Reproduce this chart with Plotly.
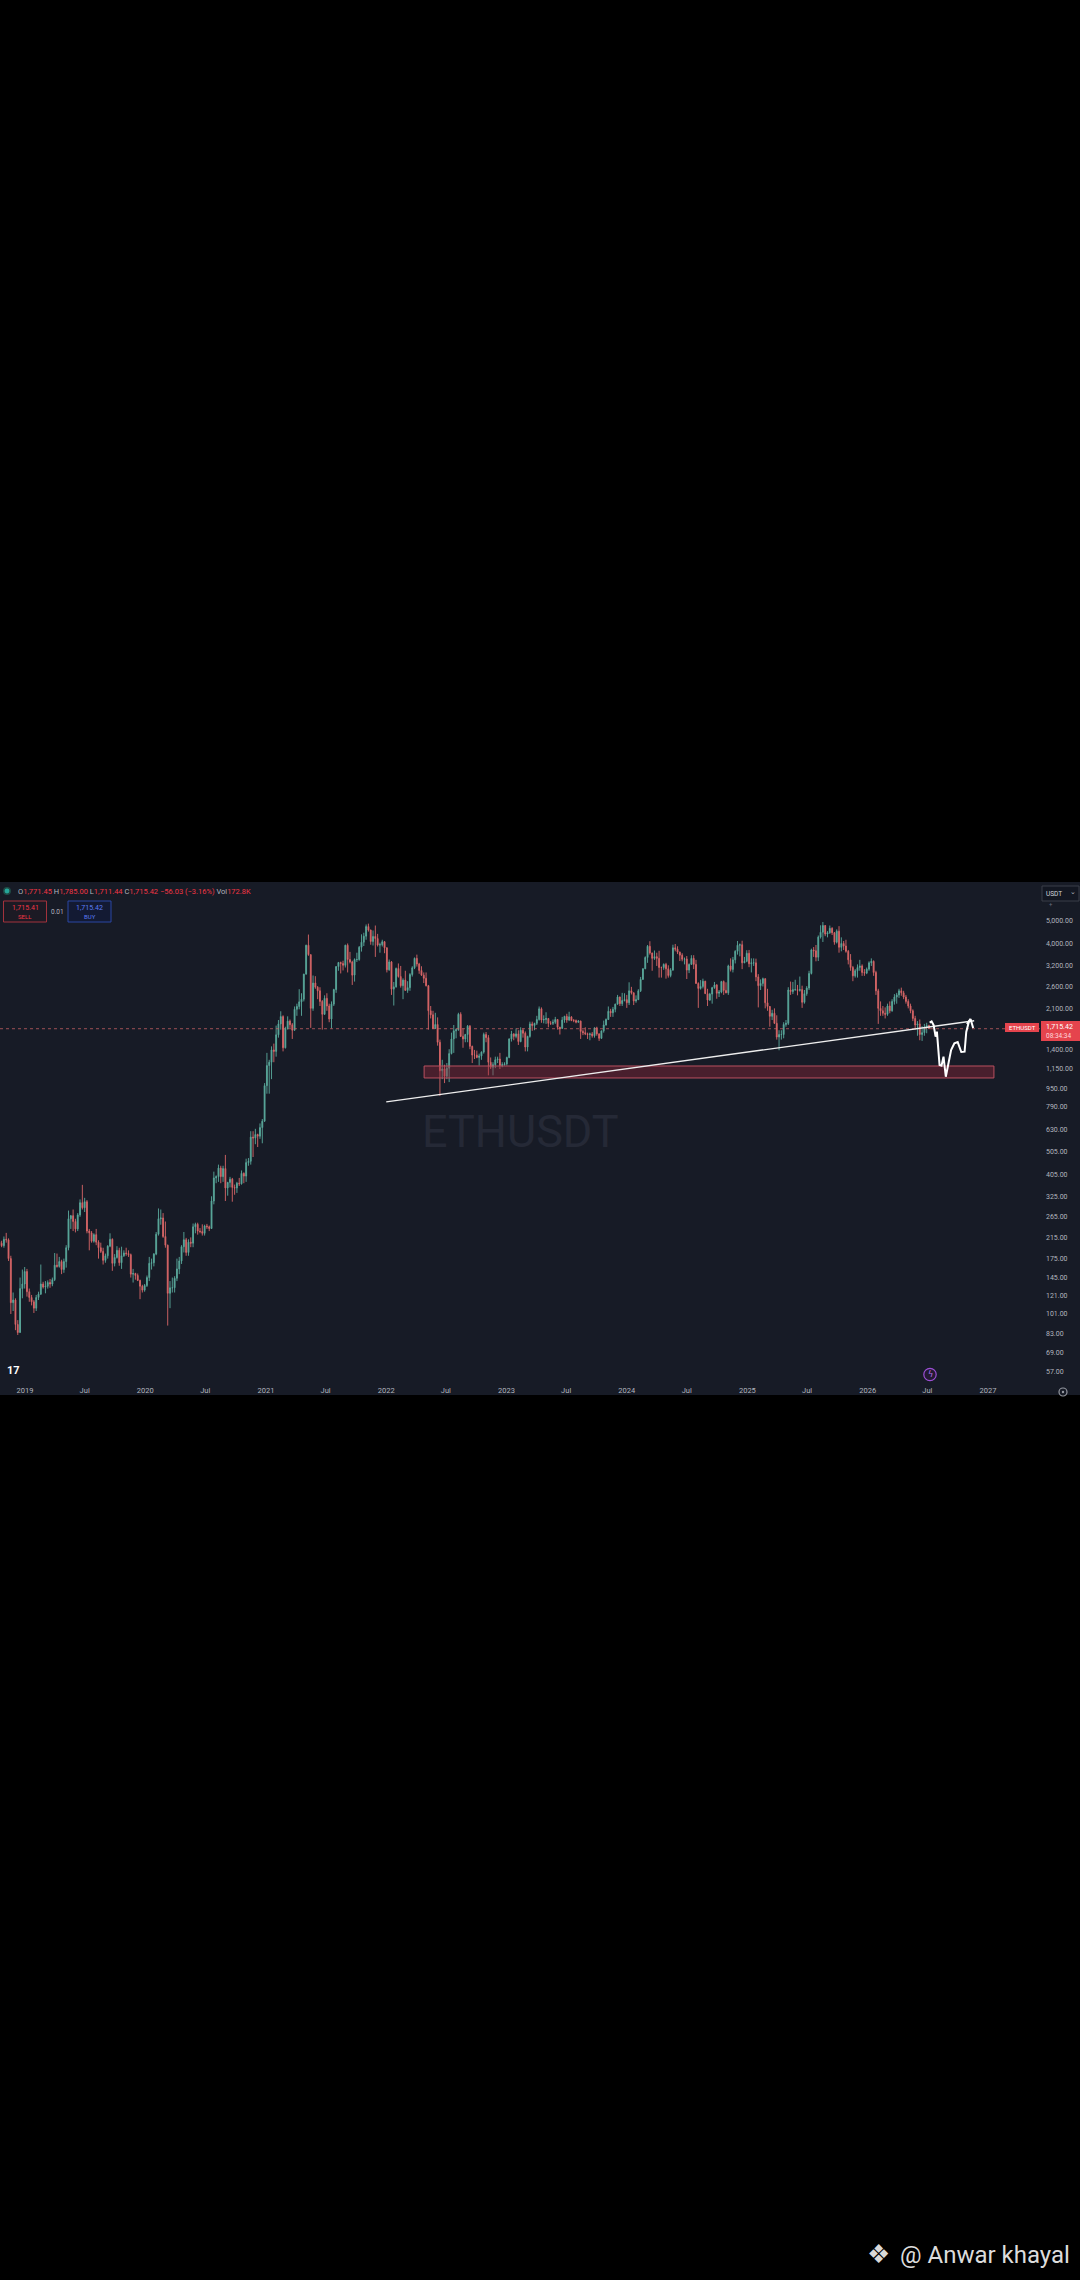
import plotly.graph_objects as go
import pandas as pd

# ---------------- data (weekly candles) ----------------
first_open = 207
c2018 = [204, 199, 212, 211, 175, 113, 116, 91, 84, 130, 136, 154]
h2018 = [230, 209, 218, 226, 214, 180, 125, 118, 95, 145, 157, 161]
l2018 = [195, 196, 195, 205, 171, 101, 104, 86, 82, 84, 118, 130]

c2019 = [126, 119, 114, 107, 119, 123, 136, 132, 133, 138, 136, 142, 164, 162, 170, 157, 170, 195, 260, 268,
         253, 235, 270, 305, 290, 308, 230, 226, 208, 222, 206, 195, 188, 172, 180, 198, 212, 167, 177, 190,
         168, 180, 185, 184, 182, 150, 151, 148, 141, 133, 128, 134]
h2019 = [158, 130, 122, 116, 122, 126, 165, 139, 140, 141, 143, 145, 185, 184, 178, 173, 175, 200, 282, 270,
         285, 260, 275, 315, 364, 320, 313, 235, 230, 225, 235, 210, 205, 195, 184, 200, 225, 214, 183, 198,
         195, 197, 190, 195, 190, 184, 158, 152, 151, 142, 135, 136]
l2019 = [120, 114, 110, 102, 104, 116, 122, 130, 124, 130, 131, 133, 140, 160, 160, 150, 152, 160, 190, 235,
         230, 227, 230, 265, 285, 278, 225, 190, 205, 205, 200, 175, 185, 165, 168, 175, 196, 155, 162, 175,
         163, 158, 178, 180, 178, 145, 138, 142, 140, 117, 125, 126]

c2020 = [145, 167, 168, 183, 223, 260, 262, 218, 200, 124, 131, 131, 144, 158, 171, 197, 211, 186, 206, 204,
         240, 246, 230, 229, 225, 242, 240, 236, 310, 390, 395, 430, 395, 428, 353, 373, 385, 355, 353, 370,
         368, 408, 397, 454, 460, 585, 580, 600, 590, 643, 685, 975]
h2020 = [148, 178, 175, 185, 228, 288, 285, 275, 253, 201, 140, 145, 147, 175, 178, 200, 228, 215, 212, 216,
         248, 250, 250, 237, 246, 245, 247, 243, 325, 415, 400, 445, 440, 440, 490, 375, 394, 390, 365, 375,
         390, 420, 412, 472, 475, 620, 620, 635, 605, 670, 700, 1000]
l2020 = [132, 140, 157, 162, 181, 220, 245, 215, 195, 90, 107, 125, 125, 140, 150, 166, 186, 180, 180, 196,
         196, 225, 222, 225, 220, 220, 235, 230, 235, 300, 370, 375, 370, 375, 310, 327, 355, 308, 330, 336,
         360, 365, 370, 375, 440, 445, 480, 545, 530, 575, 550, 680]

c2021 = [1190, 1230, 1390, 1370, 1615, 1800, 1935, 1420, 1720, 1850, 1785, 1690, 2080, 2140, 2240, 2300, 2950,
         3930, 3580, 2100, 2700, 2590, 2500, 2250, 1980, 2320, 2150, 1890, 2190, 2530, 3180, 3310, 3280, 3220,
         3930, 3410, 3330, 2920, 3410, 3410, 3850, 4050, 4300, 4730, 4570, 4080, 4290, 4200, 3940, 3950, 4070, 3830]
h2021 = [1350, 1260, 1440, 1480, 1770, 1870, 2040, 1960, 1750, 1940, 1880, 1815, 2140, 2200, 2540, 2440, 2960,
         3950, 4370, 3590, 2910, 2890, 2620, 2590, 2280, 2390, 2440, 2200, 2250, 2550, 3190, 3330, 3340, 3370,
         3950, 4000, 3680, 3370, 3450, 3650, 3900, 4380, 4450, 4830, 4870, 4590, 4550, 4780, 4400, 4030, 4150, 4100]
l2021 = [900, 900, 1040, 1230, 1300, 1570, 1700, 1370, 1410, 1700, 1730, 1550, 1680, 1950, 2080, 1950, 2250,
         2940, 3540, 1730, 2050, 2550, 2300, 2150, 1700, 1970, 2050, 1830, 1720, 2150, 2450, 3050, 2970, 3060,
         3150, 3000, 3280, 2650, 2740, 3330, 3370, 3690, 3900, 4150, 4500, 3950, 3920, 3500, 3880, 3650, 3880, 3630]

c2022 = [3080, 3330, 2540, 2600, 3120, 2880, 2630, 2780, 2510, 2580, 2940, 3140, 3450, 3260, 3060, 2920, 2830,
         2630, 2050, 1970, 1720, 1790, 1500, 1130, 1150, 1070, 1160, 1340, 1550, 1680, 1700, 1980, 1590, 1550,
         1620, 1760, 1440, 1320, 1320, 1290, 1310, 1360, 1620, 1570, 1230, 1170, 1200, 1260, 1270, 1190, 1200, 1210]
h2022 = [3850, 3410, 3360, 2730, 3150, 3280, 3200, 2830, 3050, 2750, 2980, 3190, 3480, 3580, 3300, 3190, 3000,
         3000, 2650, 2150, 2050, 2010, 1920, 1540, 1260, 1200, 1220, 1400, 1650, 1780, 1720, 2010, 2020, 1720,
         1630, 1780, 1780, 1450, 1390, 1380, 1340, 1370, 1650, 1660, 1610, 1290, 1230, 1300, 1300, 1350, 1230, 1230]
l2022 = [3000, 3050, 2400, 2160, 2580, 2850, 2580, 2300, 2500, 2450, 2500, 2880, 3100, 3180, 2960, 2900, 2700,
         2610, 1700, 1900, 1710, 1710, 1450, 880, 1040, 1000, 1040, 1010, 1330, 1350, 1560, 1680, 1580, 1420,
         1500, 1500, 1400, 1220, 1270, 1280, 1190, 1260, 1340, 1500, 1080, 1150, 1080, 1160, 1220, 1150, 1170, 1190]

c2023 = [1290, 1550, 1630, 1590, 1630, 1510, 1690, 1640, 1430, 1590, 1800, 1770, 1810, 1880, 2090, 1870, 1880,
         1900, 1810, 1810, 1830, 1880, 1740, 1720, 1870, 1940, 1870, 1930, 1860, 1860, 1830, 1850, 1670, 1650,
         1630, 1620, 1630, 1600, 1730, 1630, 1560, 1680, 1780, 1880, 2040, 2010, 2080, 2190, 2350, 2200, 2270, 2290]
h2023 = [1300, 1560, 1680, 1640, 1720, 1690, 1740, 1720, 1670, 1600, 1840, 1840, 1820, 1950, 2140, 2120, 1960,
         2020, 1900, 1850, 1880, 1930, 1890, 1750, 1930, 1950, 1990, 2030, 1940, 1890, 1880, 1870, 1860, 1700,
         1740, 1650, 1650, 1660, 1740, 1750, 1640, 1680, 1860, 1900, 2140, 2090, 2130, 2200, 2400, 2360, 2450, 2440]
l2023 = [1190, 1280, 1510, 1530, 1560, 1460, 1500, 1570, 1370, 1370, 1570, 1680, 1690, 1780, 1860, 1820, 1810,
         1800, 1740, 1780, 1780, 1800, 1700, 1620, 1720, 1820, 1820, 1850, 1850, 1830, 1810, 1820, 1550, 1610,
         1610, 1550, 1530, 1570, 1570, 1600, 1520, 1550, 1650, 1770, 1870, 1930, 1930, 2020, 2180, 2150, 2150, 2250]

c2024 = [2220, 2500, 2450, 2260, 2290, 2500, 2800, 3110, 3480, 3890, 3640, 3450, 3510, 3450, 3150, 3150, 3250,
         3110, 2910, 3070, 3830, 3780, 3670, 3560, 3420, 3430, 3070, 3250, 3450, 3250, 2690, 2560, 2610, 2750,
         2430, 2280, 2420, 2580, 2650, 2440, 2470, 2740, 2510, 2450, 3200, 3090, 3400, 3700, 3930, 3950, 3300,
         3350, 3630]
h2024 = [2400, 2720, 2600, 2460, 2390, 2540, 2870, 3130, 3520, 3940, 4090, 3650, 3730, 3650, 3720, 3180, 3280,
         3300, 3220, 3130, 3950, 3980, 3890, 3690, 3630, 3480, 3530, 3280, 3560, 3560, 3400, 2720, 2780, 2820,
         2760, 2550, 2450, 2600, 2730, 2670, 2520, 2760, 2770, 2720, 3240, 3450, 3500, 3740, 4100, 4000, 4110,
         3500, 3740]
l2024 = [2110, 2170, 2410, 2170, 2220, 2280, 2470, 2790, 3100, 3300, 3580, 3050, 3400, 3200, 2850, 2850, 3080,
         2820, 2850, 2860, 3050, 3700, 3600, 3360, 3350, 3250, 2810, 2980, 3240, 3100, 2680, 2110, 2530, 2560,
         2430, 2150, 2260, 2200, 2550, 2310, 2350, 2440, 2400, 2440, 2400, 3030, 3000, 3280, 3580, 3520, 3100,
         3290, 3320]

c2025 = [3270, 3300, 3300, 2870, 2630, 2690, 2820, 2220, 2140, 1940, 2000, 1810, 1580, 1620, 1620, 1790, 1810,
         2520, 2480, 2530, 2530, 2510, 2530, 2230, 2430, 2570, 2970, 3750, 3720, 3490, 4260, 4470, 4780, 4390,
         4450, 4650, 4450, 4050, 4520, 3850, 4000, 3900, 3700, 3400, 3150, 2900, 3050, 3150, 3200, 3000, 2980, 3100]
h2025 = [3750, 3450, 3450, 3440, 2950, 2800, 2850, 2830, 2550, 2150, 2070, 2100, 1960, 1690, 1690, 1830, 1870,
         2590, 2740, 2730, 2790, 2650, 2880, 2630, 2520, 2620, 3050, 3800, 3860, 3940, 4330, 4790, 4950, 4800,
         4520, 4780, 4700, 4480, 4600, 4750, 4250, 4100, 4150, 3750, 3600, 3200, 3100, 3250, 3400, 3250, 3100, 3150]
l2025 = [3160, 3000, 3200, 2750, 2120, 2520, 2610, 2100, 2050, 1750, 1870, 1800, 1540, 1385, 1540, 1560, 1750,
         1780, 2400, 2420, 2500, 2390, 2480, 2110, 2200, 2380, 2520, 2940, 3500, 3350, 3360, 4200, 4060, 4300,
         4250, 4400, 4350, 3950, 4000, 3650, 3700, 3750, 3650, 3250, 3050, 2750, 2850, 2850, 3050, 2900, 2900, 2950]

c2026 = [3300, 3350, 3000, 2500, 2100, 2050, 2000, 1980, 2150, 2050, 2250, 2350, 2400, 2500, 2450, 2350, 2250,
         2150, 2050, 1900, 1780, 1800, 1620, 1650, 1740, 1771.45, 1715.42]
h2026 = [3350, 3450, 3380, 3050, 2550, 2250, 2150, 2120, 2200, 2250, 2300, 2420, 2450, 2550, 2580, 2500, 2400,
         2300, 2200, 2080, 1950, 1850, 1880, 1760, 1800, 1820, 1785.00]
l2026 = [3050, 3200, 2900, 2400, 1800, 1950, 1950, 1900, 1950, 2000, 2030, 2180, 2200, 2330, 2380, 2300, 2200,
         2100, 2000, 1850, 1700, 1600, 1530, 1520, 1600, 1640, 1711.44]

last_price = 1715.42

# drawings (dates / prices)
zone_dates = ["2022-04-26", "2027-01-19"]
zone_prices = [1052, 1185]
trend_dates = ["2022-01-01", "2026-11-20"]
trend_prices = [829, 1857]
path_dates = ["2026-07-08", "2026-07-14", "2026-07-20", "2026-07-26", "2026-07-30", "2026-08-07",
              "2026-08-13", "2026-08-19", "2026-08-26", "2026-09-01", "2026-09-11", "2026-09-21",
              "2026-10-01", "2026-10-12", "2026-10-22", "2026-10-27", "2026-11-04", "2026-11-09"]
path_prices = [1821, 1843, 1780, 1585, 1666, 1197, 1188, 1300, 1065, 1177, 1389, 1484,
               1503, 1361, 1366, 1660, 1839, 1889]
arrow_dates = ["2026-10-29", "2026-11-09", "2026-11-17"]
arrow_prices = [1797, 1889, 1728]

price_ticks = [5000, 4000, 3200, 2600, 2100, 1400, 1150, 950, 790, 630, 505, 405, 325, 265, 215,
               175, 145, 121, 101, 83, 69, 57]
time_ticks = ["2019-01-01", "2019-07-01", "2020-01-01", "2020-07-01", "2021-01-01", "2021-07-01",
              "2022-01-01", "2022-07-01", "2023-01-01", "2023-07-01", "2024-01-01", "2024-07-01",
              "2025-01-01", "2025-07-01", "2026-01-01", "2026-07-01", "2027-01-01"]
time_labels = ["2019", "Jul", "2020", "Jul", "2021", "Jul", "2022", "Jul", "2023", "Jul",
               "2024", "Jul", "2025", "Jul", "2026", "Jul", "2027"]

closes = c2018 + c2019 + c2020 + c2021 + c2022 + c2023 + c2024 + c2025 + c2026
highs = h2018 + h2019 + h2020 + h2021 + h2022 + h2023 + h2024 + h2025 + h2026
lows = l2018 + l2019 + l2020 + l2021 + l2022 + l2023 + l2024 + l2025 + l2026
opens = [first_open] + closes[:-1]
week_dates = pd.date_range("2018-10-15", periods=len(closes), freq="W-MON")

# ---------------- layout geometry ----------------
W, H = 1080, 2280
PL, PR, PT, PB = 0, 1040, 883, 1381
BG = "#171b26"
X_RANGE = ["2018-10-17 03:00", "2027-06-07 19:00"]
UP = "#5aa99c"
DOWN = "#d96668"


def xp(x):
    return (x - PL) / (PR - PL)


def yp(y):
    return (PB - y) / (PB - PT)


shapes = []
annotations = []


def rect(x0, y0, x1, y1, fill, line=None, lw=1, layer="above"):
    shapes.append(dict(type="rect", xref="paper", yref="paper", x0=xp(x0), x1=xp(x1),
                       y0=yp(y1), y1=yp(y0), fillcolor=fill,
                       line=dict(color=line if line else fill, width=lw if line else 0), layer=layer))


def circle(cx, cy, r, fill, line=None, lw=1):
    shapes.append(dict(type="circle", xref="paper", yref="paper", x0=xp(cx - r), x1=xp(cx + r),
                       y0=yp(cy + r), y1=yp(cy - r), fillcolor=fill,
                       line=dict(color=line if line else fill, width=lw if line else 0), layer="above"))


def text(t, x, y, size, color, anchor="center", family="Roboto"):
    annotations.append(dict(text=t, x=xp(x), y=yp(y), xref="paper", yref="paper", xanchor=anchor,
                            yanchor="middle", showarrow=False, borderpad=0,
                            font=dict(size=size, color=color, family=family)))


# panel background
rect(0, 882, 1080, 1395, BG, layer="below")

fig = go.Figure()

# watermark
text("ETHUSDT", 520, 1131, 45, "#252936")

fig.add_trace(go.Candlestick(
    x=week_dates, open=opens, high=highs, low=lows, close=closes,
    increasing=dict(line=dict(color=UP, width=0.9), fillcolor=UP),
    decreasing=dict(line=dict(color=DOWN, width=0.9), fillcolor=DOWN),
    whiskerwidth=0, hoverinfo="skip", showlegend=False))

# current price dotted line
fig.add_trace(go.Scatter(x=X_RANGE, y=[last_price, last_price], mode="lines",
                         line=dict(color="rgba(217,102,104,0.7)", width=1, dash="dot"),
                         hoverinfo="skip", showlegend=False))

# demand zone
fig.add_trace(go.Scatter(
    x=[zone_dates[0], zone_dates[1], zone_dates[1], zone_dates[0], zone_dates[0]],
    y=[zone_prices[0], zone_prices[0], zone_prices[1], zone_prices[1], zone_prices[0]],
    mode="lines", fill="toself", fillcolor="rgba(150,38,58,0.40)",
    line=dict(color="#b9505f", width=1), hoverinfo="skip", showlegend=False))

# trend line
fig.add_trace(go.Scatter(x=trend_dates, y=trend_prices, mode="lines",
                         line=dict(color="#eeeeee", width=1.3), hoverinfo="skip", showlegend=False))

# projected path
fig.add_trace(go.Scatter(x=path_dates, y=path_prices, mode="lines",
                         line=dict(color="#ffffff", width=2), hoverinfo="skip", showlegend=False))
fig.add_trace(go.Scatter(x=arrow_dates, y=arrow_prices, mode="lines",
                         line=dict(color="#ffffff", width=2), hoverinfo="skip", showlegend=False))

# ---------------- header / widgets ----------------
circle(7, 891, 3.2, "#26a69a", line="#1f4a45", lw=1.5)
gray = "#b2b5be"
red = "#f23645"
hdr = (f"<span style='color:{gray}'>O</span><span style='color:{red}'>1,771.45</span> "
       f"<span style='color:{gray}'>H</span><span style='color:{red}'>1,785.00</span> "
       f"<span style='color:{gray}'>L</span><span style='color:{red}'>1,711.44</span> "
       f"<span style='color:{gray}'>C</span><span style='color:{red}'>1,715.42</span> "
       f"<span style='color:{red}'>\u221256.03 (\u22123.16%)</span> "
       f"<span style='color:{gray}'>Vol</span><span style='color:{red}'>172.8K</span>")
text(hdr, 17, 891, 7.5, gray, anchor="left")

rect(3.5, 901, 46.5, 922, "#1c1a24", line="#a3323c", lw=1)
text("1,715.41", 25, 907.5, 7, red)
text("SELL", 25, 916, 6, red)
text("0.01", 57, 912, 6.5, gray)
rect(68, 901, 111, 922, "#131a33", line="#2b47a3", lw=1)
text("1,715.42", 89.5, 907.5, 7, "#5b7cf5")
text("BUY", 89.5, 916, 6, "#5b7cf5")

# currency selector
rect(1042, 886, 1079, 901, "#131722", line="#3a3e49", lw=1)
text("USDT", 1045, 893.5, 6.5, "#d1d4dc", anchor="left")
text("\u2304", 1073, 892, 7, gray)
text("+", 1051, 903.5, 6, "#6a6d78")

# last price labels
rect(1005, 1023, 1039, 1032, "#e5444d")
text("ETHUSDT", 1022, 1027.5, 6, "#ffffff")
rect(1041, 1021, 1080, 1041, "#e5444d")
text("1,715.42", 1045, 1026.5, 7, "#ffffff", anchor="left")
text("08:34:34", 1045, 1036, 6.5, "#ffd9dc", anchor="left")

# TradingView logo, event icon, settings icon
text("<b>17</b>", 13, 1370, 11, "#ffffff")
circle(930, 1374.5, 6.2, "#241a33", line="#9b4fd4", lw=1.2)
text("\u03df", 930, 1374.5, 8, "#b874f0", family="DejaVu Sans")
circle(1063, 1392, 4, "rgba(0,0,0,0)", line="#9598a1", lw=1.2)
circle(1063, 1392, 1.2, "#9598a1")

# footer watermark
text("\u2756", 878, 2254, 26, "#d9d9d9", family="DejaVu Sans")
text("@ Anwar khayal", 1071, 2255, 24, "#dcdcdc", anchor="right")

fig.update_layout(
    width=W, height=H, autosize=False,
    margin=dict(l=PL, r=W - PR, t=PT, b=H - PB, pad=0),
    paper_bgcolor="#000000", plot_bgcolor=BG,
    showlegend=False, shapes=shapes, annotations=annotations, boxgap=0.45,
    xaxis=dict(type="date", range=X_RANGE, tickmode="array", tickvals=time_ticks, ticktext=time_labels,
               showgrid=False, zeroline=False, showline=False, ticks="",
               tickfont=dict(size=7.5, color=gray, family="Roboto"),
               rangeslider=dict(visible=False), ticklabelstandoff=3, fixedrange=True),
    yaxis=dict(type="log", side="right", range=[1.7153, 3.8628], tickmode="array",
               tickvals=price_ticks, ticktext=[f"{v:,.2f}" for v in price_ticks],
               showgrid=False, zeroline=False, showline=False, ticks="",
               tickfont=dict(size=7, color=gray, family="Roboto"), ticklabelstandoff=5,
               fixedrange=True),
)

fig.write_html(
    "out.html",
    config={"displayModeBar": False},
    post_script="document.body.style.margin='0';document.body.style.padding='0';"
                "document.documentElement.style.background='#000';document.body.style.background='#000';",
)
